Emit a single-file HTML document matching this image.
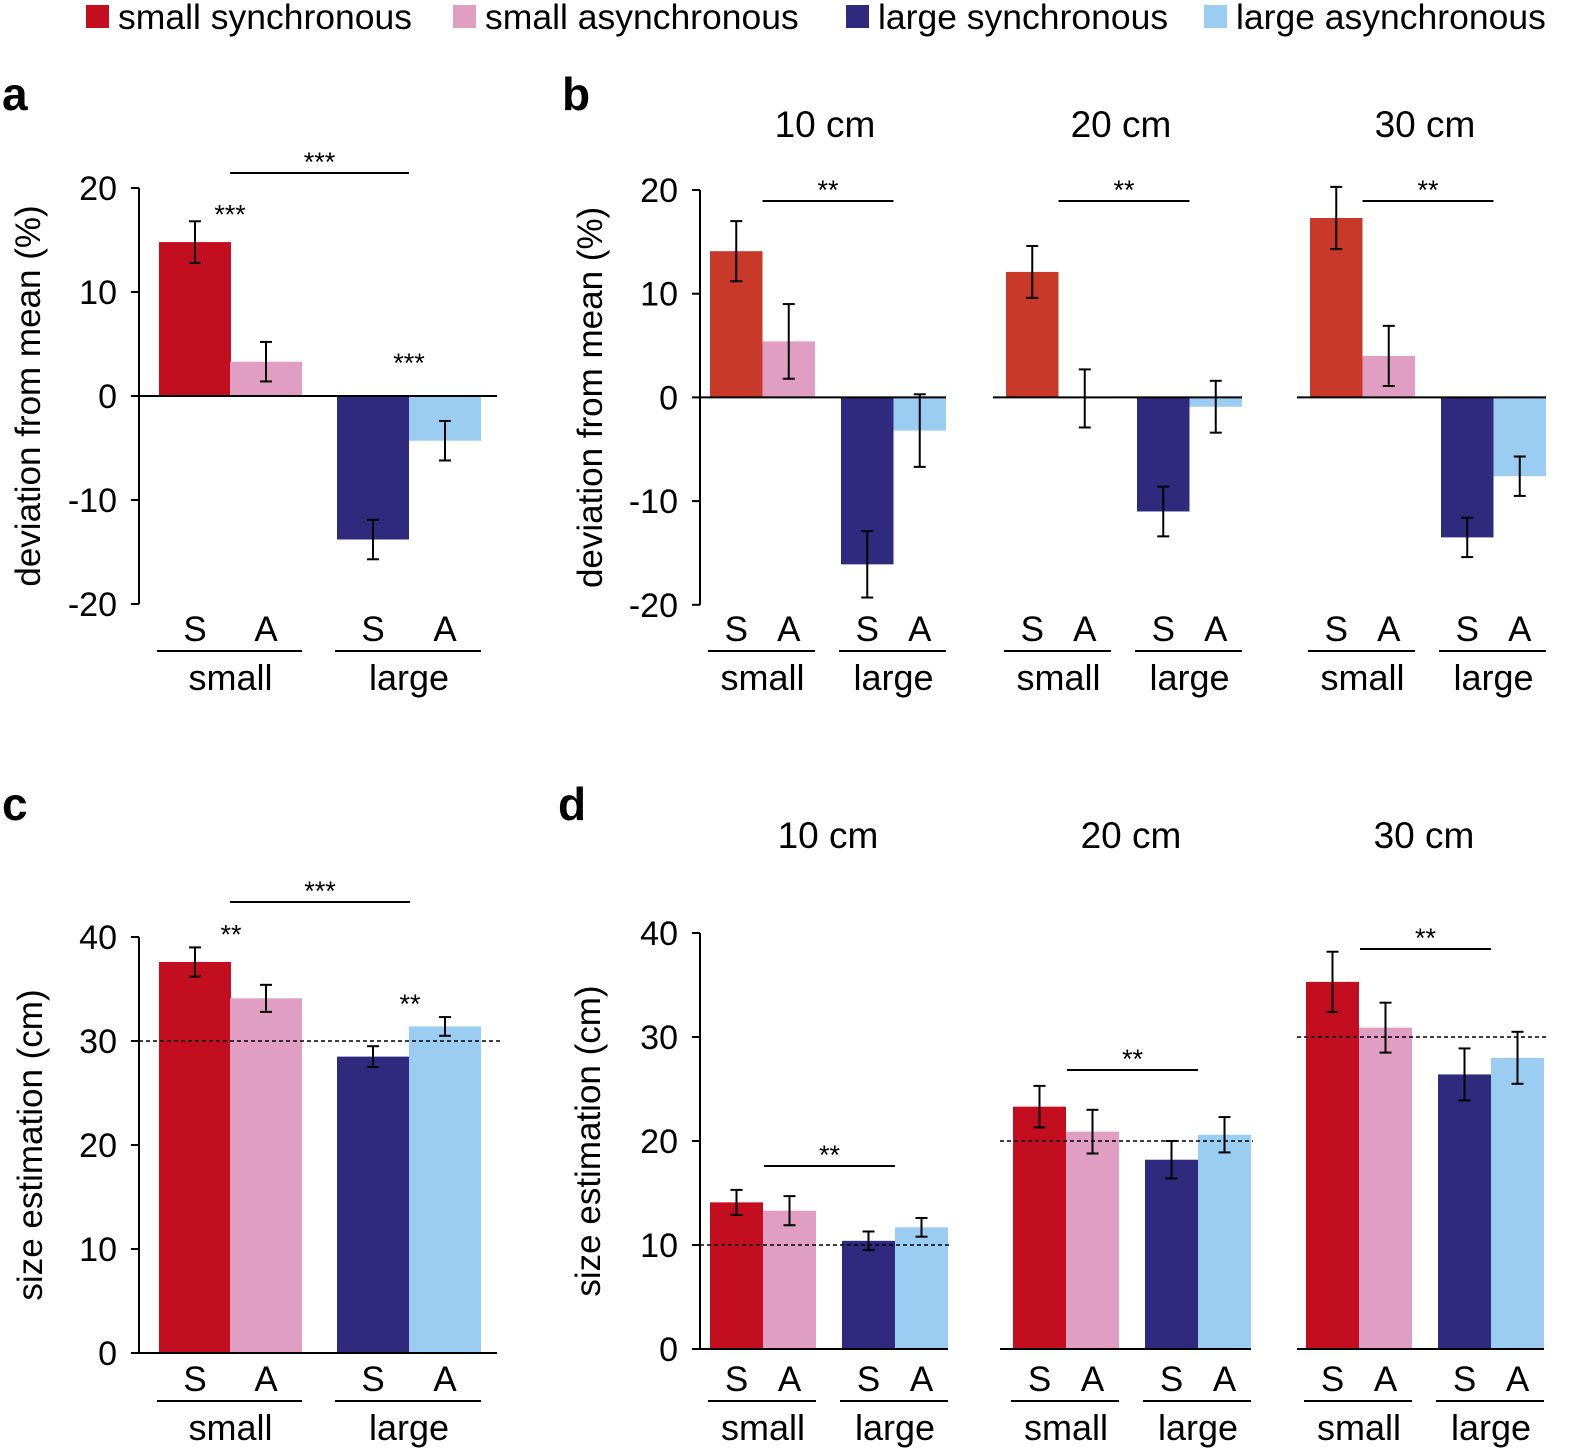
<!DOCTYPE html>
<html><head><meta charset="utf-8"><style>
html,body{margin:0;padding:0;background:#fff;}
svg{display:block;font-family:"Liberation Sans",Arial,sans-serif;}
</style></head><body>
<svg id="chart" width="1575" height="1454" viewBox="0 0 1575 1454">
<g font-size="35.5">
<rect x="86" y="5" width="23" height="23" fill="#c20e1e"/>
<text x="118" y="29">small synchronous</text>
<rect x="453" y="5" width="23" height="23" fill="#df9ec2"/>
<text x="485" y="29">small asynchronous</text>
<rect x="846" y="5" width="23" height="23" fill="#302a7e"/>
<text x="878" y="29">large synchronous</text>
<rect x="1204" y="5" width="23" height="23" fill="#9acdf1"/>
<text x="1236" y="29">large asynchronous</text>
</g>
<g font-size="46" font-weight="bold">
<text x="2" y="110">a</text>
<text x="562" y="110">b</text>
<text x="2" y="820">c</text>
<text x="558" y="820">d</text>
</g>
</svg>
<script>
const seriesNames = ['small-synchronous','small-asynchronous','large-synchronous','large-asynchronous'];
const groupLabels = ['small','large'];
const barLabels = ['S','A','S','A'];
const distanceTitles = ['10 cm','20 cm','30 cm'];
// panel a
const aValues = [14.8, 3.3, -13.8, -4.3];
const aErrors = [2.0, 1.9, 1.9, 1.9];
const aTicks = [20, 10, 0, -10, -20];
// panel b
const bValues = [[14.1, 5.4, -16.1, -3.2],[12.1, -0.1, -11.0, -0.9],[17.3, 4.0, -13.5, -7.6]];
const bErrors = [[2.9, 3.6, 3.2, 3.5],[2.5, 2.8, 2.4, 2.5],[3.0, 2.9, 1.9, 1.9]];
// panel c
const cValues = [37.6, 34.1, 28.5, 31.4];
const cErrors = [1.4, 1.3, 1.0, 0.9];
const cTicks = [40, 30, 20, 10, 0];
const cTarget = 30;
// panel d
const dValues = [[14.1, 13.3, 10.4, 11.7],[23.3, 20.9, 18.2, 20.6],[35.3, 30.9, 26.4, 28.0]];
const dErrors = [[1.2, 1.4, 0.9, 0.9],[2.0, 2.1, 1.8, 1.7],[2.9, 2.4, 2.5, 2.5]];
const dTargets = [10, 20, 30];

const NS='http://www.w3.org/2000/svg';
const svg=document.getElementById('chart');
function mk(tag,attrs,parent,txt){const e=document.createElementNS(NS,tag);for(const k in attrs)e.setAttribute(k,attrs[k]);if(txt!==undefined)e.textContent=txt;(parent||svg).appendChild(e);return e;}
const colorsA=['#c20e1e','#df9ec2','#302a7e','#9acdf1'];
const colorsB=['#c8392a','#df9ec2','#302a7e','#9acdf1'];

function yScale(top,topVal,pxPer){return v=>top+(topVal-v)*pxPer;}

function drawAxis(g,x,y,ticks,label,labelX){
  const ax=mk('line',{x1:x,x2:x,y1:y(ticks[0]),y2:y(ticks[ticks.length-1]),stroke:'#000','stroke-width':2},g);
  
  ticks.forEach(t=>{
    const tl=mk('line',{x1:x-8,x2:x,y1:y(t),y2:y(t),stroke:'#000','stroke-width':2},g);
    
    const tx=mk('text',{x:x-22,y:y(t)+12,'text-anchor':'end','font-size':34},g,String(t));
    
  });
  const cy=(y(ticks[0])+y(ticks[ticks.length-1]))/2;
  const yt=mk('text',{x:labelX,y:cy,'text-anchor':'middle','font-size':35,transform:`rotate(-90 ${labelX} ${cy})`},g,label);
  
}

function drawBars(g,xs,w,vals,errs,y,base,colors){
  vals.forEach((v,i)=>{
    const y0=y(base),y1=y(v);
    const r=mk('rect',{x:xs[i],y:Math.min(y0,y1),width:w,height:Math.max(Math.abs(y1-y0),1),fill:colors[i]},g);
    
    const cx=xs[i]+w/2,e1=y(v+errs[i]),e2=y(v-errs[i]);
    const eg=mk('g',{stroke:'#000','stroke-width':2},g);
    
    mk('line',{x1:cx,x2:cx,y1:e1,y2:e2},eg);
    mk('line',{x1:cx-6,x2:cx+6,y1:e1,y2:e1},eg);
    mk('line',{x1:cx-6,x2:cx+6,y1:e2,y2:e2},eg);
  });
}

function drawXLabels(g,xs,w,yS){
  xs.forEach((x,i)=>{
    const t=mk('text',{x:x+w/2,y:yS+13,'text-anchor':'middle','font-size':35},g,barLabels[i]);
    
  });
  [0,2].forEach((i,k)=>{
    const l=mk('line',{x1:xs[i]-2,x2:xs[i+1]+w,y1:yS+23,y2:yS+23,stroke:'#000','stroke-width':2},g);
    
    const t=mk('text',{x:(xs[i]+xs[i+1]+w)/2,y:yS+62,'text-anchor':'middle','font-size':36},g,groupLabels[k]);
    
  });
}
function sig(g,x1,x2,yl,txt){
  if(x2!==null){const l=mk('line',{x1:x1,x2:x2,y1:yl,y2:yl,stroke:'#000','stroke-width':2},g);
  }
  const cx=x2!==null?(x1+x2)/2:x1;
  const t=mk('text',{x:cx,y:yl-2,'text-anchor':'middle','font-size':27},g,txt);
  
}
function dotted(g,x1,x2,yv){
  const l=mk('line',{x1:x1,x2:x2,y1:yv,y2:yv,stroke:'#000','stroke-width':1.5,'stroke-dasharray':'4,3'},g);
  
}

// Panel a
{const g=mk('g',{});
 const y=yScale(188,20,10.4);const xs=[159,230,337,409],w=72;
 drawBars(g,xs,w,aValues,aErrors,y,0,colorsA);
 const z=mk('line',{x1:139,x2:497,y1:y(0),y2:y(0),stroke:'#000','stroke-width':2},g);
 drawAxis(g,139,y,aTicks,'deviation from mean (%)',40);
 drawXLabels(g,xs,w,628);
 sig(g,230,409,173,'***');sig(g,230,null,y(aValues[0]+aErrors[0])+4,'***');sig(g,409,null,374,'***');}
// Panel b
{const g=mk('g',{});
 const y=yScale(190,20,10.37);
 const starts=[710,1006,1310],zs=[700,993,1297],w=52.5;
 drawAxis(g,700,y,aTicks,'deviation from mean (%)',602);
 starts.forEach((s,k)=>{const sg=mk('g',{},g);
  const xs=[s,s+w,s+131,s+131+w];
  drawBars(sg,xs,w,bValues[k],bErrors[k],y,0,colorsB);
  const z=mk('line',{x1:zs[k],x2:s+236,y1:y(0),y2:y(0),stroke:'#000','stroke-width':2},sg);
  drawXLabels(sg,xs,w,628);
  sig(sg,s+w,s+131+w,201,'**');
  const t=mk('text',{x:s+115,y:137,'text-anchor':'middle','font-size':37},sg,distanceTitles[k]);
 });}
// Panel c
{const g=mk('g',{});
 const y=yScale(937,40,10.4);const xs=[159,230,337,409],w=72;
 drawBars(g,xs,w,cValues,cErrors,y,0,colorsA);
 const z=mk('line',{x1:139,x2:497,y1:y(0),y2:y(0),stroke:'#000','stroke-width':2},g);
 dotted(g,139,502,y(cTarget));
 drawAxis(g,139,y,cTicks,'size estimation (cm)',42);
 drawXLabels(g,xs,w,1378);
 sig(g,230,410,902,'***');sig(g,231,null,y(cValues[0]+cErrors[0])-2,'**');sig(g,410,null,y(cValues[3]+cErrors[3])-2,'**');}
// Panel d
{const g=mk('g',{});
 const y=yScale(933,40,10.4);
 const starts=[710,1013,1306],zs=[700,1000,1297],w=53;
 const sigY=[1166,1070,949];
 drawAxis(g,700,y,cTicks,'size estimation (cm)',600);
 starts.forEach((s,k)=>{const sg=mk('g',{},g);
  const xs=[s,s+w,s+132,s+132+w];
  drawBars(sg,xs,w,dValues[k],dErrors[k],y,0,colorsA);
  const z=mk('line',{x1:zs[k],x2:s+238,y1:y(0),y2:y(0),stroke:'#000','stroke-width':2},sg);
  dotted(sg,zs[k],s+240,y(dTargets[k]));
  drawXLabels(sg,xs,w,1378);
  sig(sg,s+w+1,s+132+w,sigY[k],'**');
  const t=mk('text',{x:s+118,y:848,'text-anchor':'middle','font-size':37},sg,distanceTitles[k]);
 });}
</script>
</body></html>
